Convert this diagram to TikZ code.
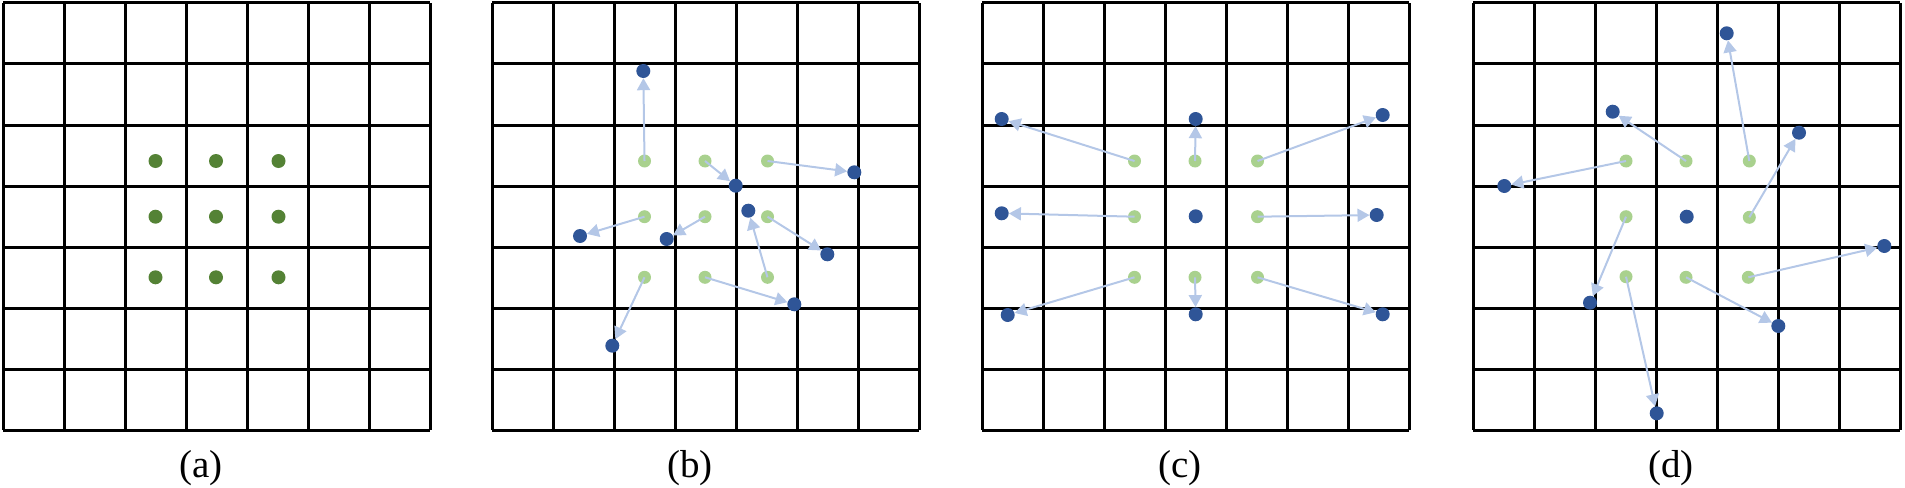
\documentclass[tikz,border=0pt]{standalone}
\usepackage{fontspec}
\setmainfont{Liberation Serif}
\usetikzlibrary{arrows.meta}

\definecolor{seedgreen}{HTML}{548235}
\definecolor{lightgreen}{HTML}{A9D18E}
\definecolor{movedblue}{HTML}{2F5597}
\definecolor{arrowblue}{HTML}{B4C7E7}

\begin{document}
\begin{tikzpicture}[x=1pt, y=-1pt,
    gridline/.style={draw=black, line width=3pt},
    seedpt/.style={circle, fill=seedgreen, inner sep=0pt, minimum size=14pt},
    greenpt/.style={circle, fill=lightgreen, inner sep=0pt, minimum size=13pt},
    bluept/.style={circle, fill=movedblue, inner sep=0pt, minimum size=14pt},
    moveline/.style={draw=arrowblue, line width=2pt, -{Triangle[length=12pt, width=13pt]}},
    caption/.style={anchor=base, inner sep=0pt, font=\fontsize{39}{47}\selectfont}]
    \useasboundingbox (0,0) rectangle (1905,487);

    % the four 7x7 grids with their captions
    \foreach \p/\ox in {a/3, b/492, c/982, d/1473} {
        \begin{scope}[shift={(\ox,3)}]
            \foreach \k in {0,...,7} {
                \pgfmathsetmacro{\c}{\k*61}
                \draw [gridline] (\c,0) -- (\c,427);
                \draw [gridline] (0,\c) -- (427,\c);
            }
            \node [caption] (cap-\p) at (198,474.4) {(\p)};
        \end{scope}
    }

    % (a) starting points
    \begin{scope}[shift={(3,3)}]
        \foreach \i/\x in {0/152.5, 1/213, 2/275.5} {
            \foreach \j/\y in {0/158, 1/213.7, 2/274.3} {
                \node [seedpt] (a-g\i\j) at (\x,\y) {};
            }
        }
    \end{scope}

    % (b)
    \begin{scope}[shift={(492,3)}]
        \foreach \i/\x in {0/152.5, 1/213, 2/275.5} {
            \foreach \j/\y in {0/158, 1/213.7, 2/274.3} {
                \node [greenpt] (b-g\i\j) at (\x,\y) {};
            }
        }
        \foreach \s/\x/\y in {00/151.3/68, 10/243.7/182.7, 20/362.3/169.3,
                              01/88/233, 11/174.7/236, 21/335.3/251.3,
                              02/120.3/342.7, 12/302.3/301.3, 22/256.3/207.7} {
            \node [bluept] (b-m\s) at (\x,\y) {};
            \draw [moveline] (b-g\s.center) -- (b-m\s);
        }
    \end{scope}

    % (c)
    \begin{scope}[shift={(982,3)}]
        \foreach \s/\x/\y in {00/152.5/158, 10/213/158, 20/275.5/158,
                              01/152.5/213.7, 21/275.5/213.7,
                              02/152.5/274.3, 12/213/274.3, 22/275.5/274.3} {
            \node [greenpt] (c-g\s) at (\x,\y) {};
        }
        \node [bluept] (c-m11) at (213.7,213.3) {};
        \foreach \s/\x/\y in {00/19.7/116, 10/213.7/116, 20/400.7/112,
                              01/19.7/210.3, 21/394.7/212,
                              02/25.7/312, 12/213.7/311.3, 22/400.7/311.3} {
            \node [bluept] (c-m\s) at (\x,\y) {};
            \draw [moveline] (c-g\s.center) -- (c-m\s);
        }
    \end{scope}

    % (d)
    \begin{scope}[shift={(1473,3)}]
        \foreach \s/\x/\y in {00/153/158, 10/213/158, 20/276.3/158,
                              01/153/213.7, 21/276.3/214.3,
                              02/153/273.7, 12/213/274.3, 22/275.3/274.3} {
            \node [greenpt] (d-g\s) at (\x,\y) {};
        }
        \node [bluept] (d-m11) at (213.7,213.7) {};
        \foreach \s/\x/\y in {00/31.3/183, 10/139.7/108.7, 20/253.7/30.3,
                              01/117/299.7, 21/326/129.7,
                              02/183.7/410.3, 12/305.3/323, 22/411.3/243} {
            \node [bluept] (d-m\s) at (\x,\y) {};
            \draw [moveline] (d-g\s.center) -- (d-m\s);
        }
    \end{scope}

\end{tikzpicture}
\end{document}
